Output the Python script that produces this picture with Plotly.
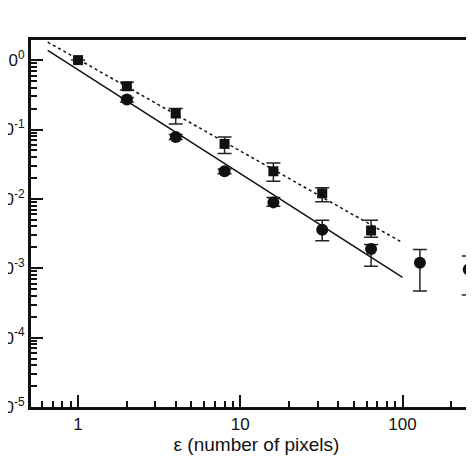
import numpy as np
import plotly.graph_objects as go

# squares (dotted fit)
sq_x = [1, 2, 4, 8, 16, 32, 64]
sq_y = [1.0, 0.42, 0.17, 0.062, 0.025, 0.012, 0.0035]
sq_hi = [1.0, 0.48, 0.20, 0.078, 0.033, 0.0145, 0.0049]
sq_lo = [1.0, 0.37, 0.12, 0.045, 0.018, 0.0091, 0.0028]

# circles (solid fit)
ci_x = [2, 4, 8, 16, 32, 64, 128, 256]
ci_y = [0.27, 0.078, 0.025, 0.0089, 0.0036, 0.0019, 0.0012, 0.00096]
ci_hi = [0.29, 0.085, 0.027, 0.0105, 0.0049, 0.0022, 0.00186, 0.0015]
ci_lo = [0.25, 0.072, 0.023, 0.0078, 0.0025, 0.00107, 0.00047, 0.00041]

fit_x = [0.65, 100]
solid_y = [1.38, 0.00074]
dotted_y = [1.82, 0.00234]

x_minor = [m * 10 ** e for e in range(-1, 3) for m in range(2, 10)]
y_minor = [m * 10.0 ** e for e in range(-5, 1) for m in range(2, 10)]

def err(y, hi, lo):
    return dict(type="data", symmetric=False,
                array=list(np.array(hi) - np.array(y)),
                arrayminus=list(np.array(y) - np.array(lo)),
                color="#222", thickness=1.5, width=7)

fig = go.Figure()
fig.add_trace(go.Scatter(x=fit_x, y=solid_y, mode="lines", line=dict(color="#111", width=1.5)))
fig.add_trace(go.Scatter(x=fit_x, y=dotted_y, mode="lines", line=dict(color="#111", width=1.5, dash="dot")))
fig.add_trace(go.Scatter(x=sq_x, y=sq_y, mode="markers", marker=dict(symbol="square", size=10, color="#111"),
                         error_y=err(sq_y, sq_hi, sq_lo)))
fig.add_trace(go.Scatter(x=ci_x, y=ci_y, mode="markers", marker=dict(symbol="circle", size=12, color="#111"),
                         error_y=err(ci_y, ci_hi, ci_lo)))

fig.update_layout(
    width=474, height=474, showlegend=False,
    plot_bgcolor="white", paper_bgcolor="white",
    margin=dict(l=23, r=0, t=32, b=75),
    font=dict(family="Liberation Sans, Arial", size=17, color="#111"),
)
fig.update_xaxes(type="log", range=[-0.29, 2.49], automargin=False, showline=True, linewidth=3,
                 linecolor="#111", mirror=True, ticks="inside", ticklen=12, tickwidth=2, tickcolor="#111",
                 tickvals=[1, 10, 100], ticktext=["1", "10", "100"], showgrid=False, zeroline=False,
                 minor=dict(tickvals=x_minor, ticks="inside", ticklen=6, tickwidth=1.5,
                            tickcolor="#111", showgrid=False),
                 title=dict(text="ε (number of pixels)", font=dict(size=19), standoff=4))
fig.update_yaxes(type="log", range=[-5, 0.29], automargin=False, showline=True, linewidth=3,
                 linecolor="#111", ticks="inside", ticklen=12, tickwidth=2, tickcolor="#111",
                 tickvals=[1e0, 1e-1, 1e-2, 1e-3, 1e-4, 1e-5],
                 ticktext=["10<sup>0</sup>", "10<sup>-1</sup>", "10<sup>-2</sup>", "10<sup>-3</sup>",
                           "10<sup>-4</sup>", "10<sup>-5</sup>"],
                 showgrid=False, zeroline=False,
                 minor=dict(tickvals=y_minor, ticks="inside", ticklen=6, tickwidth=1.5,
                            tickcolor="#111", showgrid=False))
fig.write_html("out.html")
